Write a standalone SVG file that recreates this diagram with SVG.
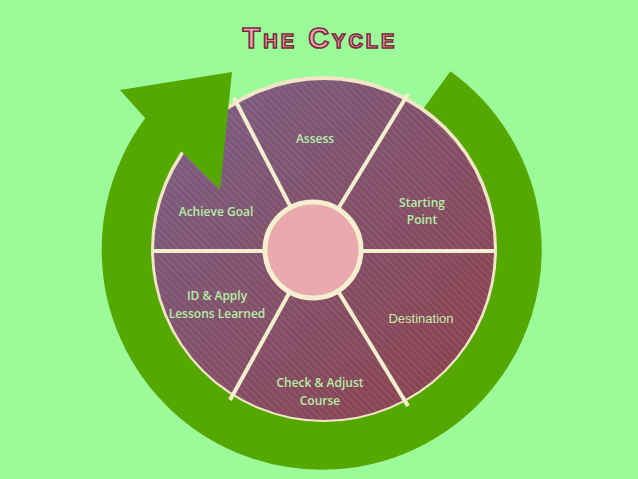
<svg xmlns="http://www.w3.org/2000/svg" width="638" height="479" viewBox="0 0 638 479">
<style>
.lbl{font-family:"Open Sans","Liberation Sans",sans-serif;font-size:12px;font-weight:600;fill:#b4eea6;text-anchor:middle}
.div{stroke:#f6efcf;stroke-width:4}
</style>
<defs>
<linearGradient id="dg" x1="0" y1="0" x2="1" y2="1">
<stop offset="0" stop-color="#7a5f86"/><stop offset="1" stop-color="#8c3f4a"/>
</linearGradient>
<pattern id="hatch" width="5" height="5" patternUnits="userSpaceOnUse" patternTransform="rotate(-45)">
<line x1="0" y1="0" x2="0" y2="5" stroke="#ffffff" stroke-opacity="0.22" stroke-width="1"/>
</pattern>
</defs>
<rect width="638" height="479" fill="#9bfb98"/>
<text x="320" y="48" font-family="Liberation Sans,sans-serif" font-size="29" font-weight="bold" font-variant="small-caps" letter-spacing="3" fill="#eea8b0" stroke="#7a2a3c" stroke-width="1.6" text-anchor="middle">The Cycle</text>
<g id="ring">
<path d="M434,94 A192,192 0 1 1 190,110" fill="none" stroke="#55a800" stroke-width="56"/>
</g>
<g id="disc">
<circle cx="324" cy="249" r="173" fill="#f2e6c6"/>
<circle cx="324" cy="250" r="170" fill="url(#dg)"/>
<circle cx="324" cy="250" r="170" fill="url(#hatch)"/>
</g>
<g id="connectors">
<line class="div" x1="154" y1="251" x2="494" y2="251"/>
<line class="div" x1="313" y1="250" x2="234" y2="98"/>
<line class="div" x1="313" y1="250" x2="408" y2="94"/>
<line class="div" x1="313" y1="250" x2="230" y2="400"/>
<line class="div" x1="313" y1="250" x2="408" y2="406"/>
</g>
<g id="arrowhead"><polygon points="120,90 232,72 220,190 180,150 145,118" fill="#55a800"/></g>
<g id="hub"><circle cx="313" cy="250" r="48" fill="#e9a9ae" stroke="#f6efcf" stroke-width="5"/></g>
<g id="n-assess"><text class="lbl" x="315" y="143">Assess</text></g>
<g id="n-start"><text class="lbl" x="422" y="207">Starting</text><text class="lbl" x="422" y="224">Point</text></g>
<g id="n-dest"><text class="lbl" x="421" y="323" style="font-weight:normal;fill:#c6e8a6;font-family:'Liberation Sans',sans-serif;font-size:13px">Destination</text></g>
<g id="n-check"><text class="lbl" x="320" y="387">Check &amp; Adjust</text><text class="lbl" x="320" y="405">Course</text></g>
<g id="n-id"><text class="lbl" x="217" y="300">ID &amp; Apply</text><text class="lbl" x="217" y="318">Lessons Learned</text></g>
<g id="n-goal"><text class="lbl" x="216" y="216">Achieve Goal</text></g>
</svg>
